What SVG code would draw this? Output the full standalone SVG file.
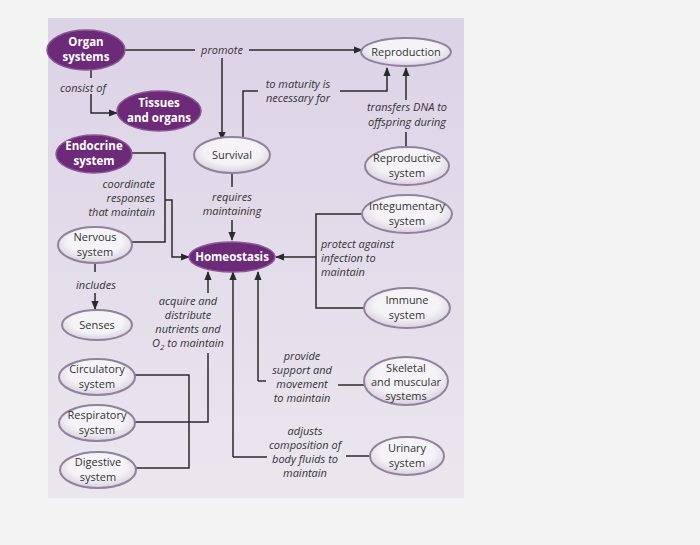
<svg xmlns="http://www.w3.org/2000/svg" width="700" height="545" viewBox="0 0 700 545">
<defs>
<linearGradient id="bg" x1="0" y1="0" x2="0" y2="1"><stop offset="0" stop-color="#dcd2e6"/><stop offset="1" stop-color="#ebe6ee"/></linearGradient>
<marker id="ah" viewBox="0 0 10 10" refX="9" refY="5" markerWidth="6" markerHeight="6" orient="auto"><path d="M0,1 L10,5 L0,9 z" fill="#2a2a2a"/></marker>
<radialGradient id="lt" cx="0.5" cy="0.4" r="0.6"><stop offset="0.6" stop-color="#f6f3f8"/><stop offset="1" stop-color="#d8d0de"/></radialGradient>
</defs>
<style>
.p{fill:#6c2a78;stroke:#8a5a94;stroke-width:1.5}
.l{fill:url(#lt);stroke:#8f8299;stroke-width:2}
.pt{font-family:"Open Sans","Liberation Sans",sans-serif;font-size:11.5px;font-weight:bold;fill:#fff;text-anchor:middle}
.lt{font-family:"Open Sans","Liberation Sans",sans-serif;font-size:11px;fill:#333;text-anchor:middle}
.e{font-family:"Open Sans","Liberation Sans",sans-serif;font-size:11px;font-style:italic;fill:#333}
.c{fill:none;stroke:#2a2a2a;stroke-width:1.5}
.a{marker-end:url(#ah)}
</style>
<rect width="700" height="545" fill="#f3f3f3"/>
<rect x="48" y="18" width="416" height="480" fill="url(#bg)"/>
<g id="connectors">
<path class="c" d="M124,50 H195"/>
<path class="c a" d="M249,50 H362"/>
<path class="c a" d="M222,58 V140"/>
<path class="c" d="M243,139 V91 H258"/>
<path class="c a" d="M340,91 H387 V68"/>
<path class="c a" d="M406,100 V68"/>
<path class="c" d="M406,132 V146"/>
<path class="c" d="M91,70 V78"/>
<path class="c a" d="M91,94 V113 H117"/>
<path class="c" d="M132,153 H165 V242 H130"/>
<path class="c a" d="M165,200 H172 V257 H189"/>
<path class="c" d="M232,172 V187"/>
<path class="c a" d="M232,220 V240"/>
<path class="c" d="M366,214 H316 V308 H366"/>
<path class="c a" d="M316,257 H276"/>
<path class="c" d="M95,262 V272"/>
<path class="c a" d="M95,293 V309"/>
<path class="c a" d="M208,293 V272"/>
<path class="c" d="M208,353 V422 H134"/>
<path class="c" d="M133,375 H189 V468 H134"/>
<path class="c a" d="M233,457 V272"/>
<path class="c a" d="M258,381 V272"/>
<path class="c" d="M258,381 H266"/>
<path class="c" d="M338,385 H368"/>
<path class="c" d="M233,457 H267"/>
<path class="c" d="M346,456 H370"/>
</g>
<g id="organ"><ellipse class="p" cx="86" cy="50" rx="39" ry="20"/><text class="pt" x="86" y="46">Organ</text><text class="pt" x="86" y="61">systems</text></g>
<text class="e" x="222" y="54" text-anchor="middle">promote</text>
<g id="repro"><ellipse class="l" cx="406" cy="52" rx="45" ry="14"/><text class="lt" x="406" y="56">Reproduction</text></g>
<text class="e" x="60" y="92">consist of</text>
<g id="tissues"><ellipse class="p" cx="159" cy="111" rx="42" ry="20"/><text class="pt" x="159" y="107">Tissues</text><text class="pt" x="159" y="122">and organs</text></g>
<text class="e" x="298" y="88" text-anchor="middle">to maturity is</text>
<text class="e" x="298" y="102" text-anchor="middle">necessary for</text>
<text class="e" x="407" y="111" text-anchor="middle">transfers DNA to</text>
<text class="e" x="407" y="126" text-anchor="middle">offspring during</text>
<g id="survival"><ellipse class="l" cx="232" cy="155" rx="38" ry="18"/><text class="lt" x="232" y="159">Survival</text></g>
<g id="endocrine"><ellipse class="p" cx="94" cy="154" rx="38" ry="19"/><text class="pt" x="94" y="150">Endocrine</text><text class="pt" x="94" y="165">system</text></g>
<g id="reproductive"><ellipse class="l" cx="407" cy="166" rx="42" ry="19"/><text class="lt" x="407" y="162">Reproductive</text><text class="lt" x="407" y="177">system</text></g>
<text class="e" x="155" y="188" text-anchor="end">coordinate</text>
<text class="e" x="155" y="202" text-anchor="end">responses</text>
<text class="e" x="155" y="216" text-anchor="end">that maintain</text>
<text class="e" x="232" y="201" text-anchor="middle">requires</text>
<text class="e" x="232" y="215" text-anchor="middle">maintaining</text>
<g id="integ"><ellipse class="l" cx="407" cy="214" rx="45" ry="19"/><text class="lt" x="407" y="210">Integumentary</text><text class="lt" x="407" y="225">system</text></g>
<g id="nervous"><ellipse class="l" cx="95" cy="245" rx="37" ry="18"/><text class="lt" x="95" y="241">Nervous</text><text class="lt" x="95" y="256">system</text></g>
<g id="homeo"><ellipse class="p" cx="232" cy="257" rx="43" ry="15"/><text class="pt" x="232" y="261">Homeostasis</text></g>
<text class="e" x="321" y="248">protect against</text>
<text class="e" x="321" y="262">infection to</text>
<text class="e" x="321" y="276">maintain</text>
<text class="e" x="96" y="289" text-anchor="middle">includes</text>
<g id="immune"><ellipse class="l" cx="407" cy="308" rx="43" ry="20"/><text class="lt" x="407" y="304">Immune</text><text class="lt" x="407" y="319">system</text></g>
<g id="senses"><ellipse class="l" cx="97" cy="325" rx="35" ry="15"/><text class="lt" x="97" y="329">Senses</text></g>
<text class="e" x="188" y="305" text-anchor="middle">acquire and</text>
<text class="e" x="188" y="319" text-anchor="middle">distribute</text>
<text class="e" x="188" y="333" text-anchor="middle">nutrients and</text>
<text class="e" x="188" y="347" text-anchor="middle">O<tspan font-size="8" dy="3">2</tspan><tspan dy="-3"> to maintain</tspan></text>
<text class="e" x="302" y="360" text-anchor="middle">provide</text>
<text class="e" x="302" y="374" text-anchor="middle">support and</text>
<text class="e" x="302" y="388" text-anchor="middle">movement</text>
<text class="e" x="302" y="402" text-anchor="middle">to maintain</text>
<g id="circ"><ellipse class="l" cx="97" cy="377" rx="38" ry="18"/><text class="lt" x="97" y="373">Circulatory</text><text class="lt" x="97" y="388">system</text></g>
<g id="skeletal"><ellipse class="l" cx="406" cy="381" rx="42" ry="24"/><text class="lt" x="406" y="372">Skeletal</text><text class="lt" x="406" y="386">and muscular</text><text class="lt" x="406" y="400">systems</text></g>
<g id="resp"><ellipse class="l" cx="97" cy="423" rx="38" ry="18"/><text class="lt" x="97" y="419">Respiratory</text><text class="lt" x="97" y="434">system</text></g>
<text class="e" x="305" y="435" text-anchor="middle">adjusts</text>
<text class="e" x="305" y="449" text-anchor="middle">composition of</text>
<text class="e" x="305" y="463" text-anchor="middle">body fluids to</text>
<text class="e" x="305" y="477" text-anchor="middle">maintain</text>
<g id="urinary"><ellipse class="l" cx="407" cy="456" rx="37" ry="19"/><text class="lt" x="407" y="452">Urinary</text><text class="lt" x="407" y="467">system</text></g>
<g id="digest"><ellipse class="l" cx="98" cy="470" rx="38" ry="18"/><text class="lt" x="98" y="466">Digestive</text><text class="lt" x="98" y="481">system</text></g>
</svg>
